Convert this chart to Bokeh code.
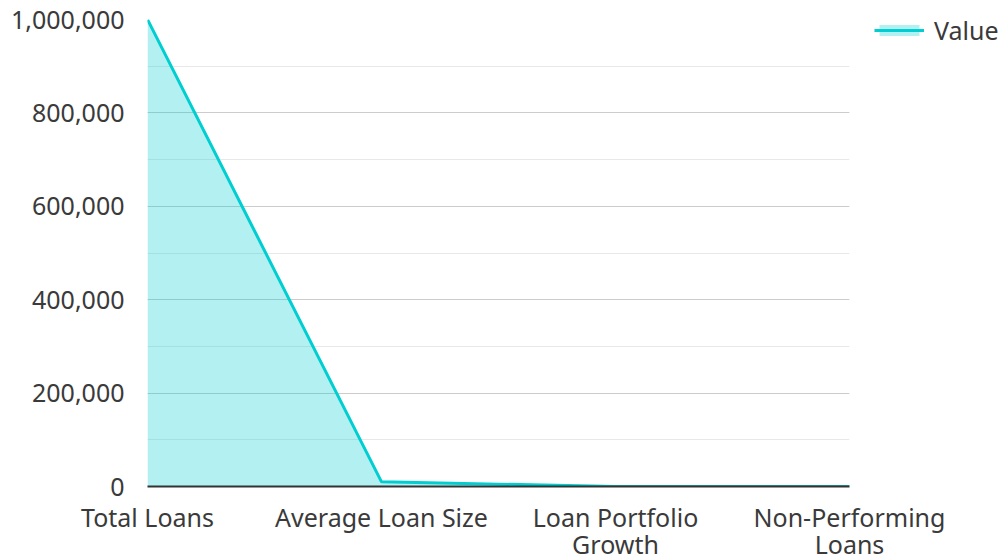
from bokeh.plotting import figure
from bokeh.models import Range1d, FixedTicker, SingleIntervalTicker, NumeralTickFormatter, Legend, LegendItem, ColumnDataSource
from bokeh.embed import file_html
from bokeh.resources import INLINE

categories = ["Total Loans", "Average Loan Size", "Loan Portfolio Growth", "Non-Performing Loans"]
tick_labels = ["Total Loans", "Average Loan Size", "Loan Portfolio\nGrowth", "Non-Performing\nLoans"]
values = [1000000, 10000, 5, 2]

xs = list(range(len(categories)))
src = ColumnDataSource(dict(x=xs, y=values, y0=[0] * len(values)))

FONT = "Noto Sans"
TXT = "#3a3a3a"
FS = "25px"

p = figure(frame_width=702, frame_height=467, output_backend="svg", toolbar_location=None,
           x_range=Range1d(0, len(categories) - 1), y_range=Range1d(0, 1000000),
           min_border_left=147, min_border_top=19, min_border_bottom=72, min_border_right=0)
p.outline_line_color = None

area = p.varea(x="x", y1="y0", y2="y", source=src, fill_color="#00CED1", fill_alpha=0.3)
line = p.line(x="x", y="y", source=src, line_color="#00CED1", line_width=3)

p.xaxis.ticker = FixedTicker(ticks=xs)
p.xaxis.major_label_overrides = {i: t for i, t in enumerate(tick_labels)}
p.xaxis.axis_line_color = "#333333"
p.xaxis.axis_line_width = 2
p.xaxis.major_tick_line_color = None
p.xaxis.minor_tick_line_color = None
p.xaxis.major_label_text_font = FONT
p.xaxis.major_label_text_font_size = FS
p.xaxis.major_label_text_color = TXT
p.xaxis.major_label_text_line_height = 0.8
p.xaxis.major_label_standoff = 7

p.yaxis.ticker = SingleIntervalTicker(interval=200000, num_minor_ticks=2)
p.yaxis.formatter = NumeralTickFormatter(format="0,0")
p.yaxis.axis_line_color = None
p.yaxis.major_tick_line_color = None
p.yaxis.minor_tick_line_color = None
p.yaxis.major_label_text_font = FONT
p.yaxis.major_label_text_font_size = FS
p.yaxis.major_label_text_color = TXT
p.yaxis.major_label_standoff = 17

p.xgrid.grid_line_color = None
p.ygrid.grid_line_color = "#cccccc"
p.ygrid.minor_grid_line_color = "#e8e8e8"

legend = Legend(items=[LegendItem(label="Value", renderers=[area, line])],
                location=(25, 439), border_line_color=None, background_fill_alpha=0,
                label_text_font=FONT, label_text_font_size=FS, label_text_color=TXT,
                glyph_width=50, glyph_height=14, margin=0, padding=0, label_standoff=10)
p.add_layout(legend, "right")

open("out.html", "w").write(file_html(p, INLINE))
